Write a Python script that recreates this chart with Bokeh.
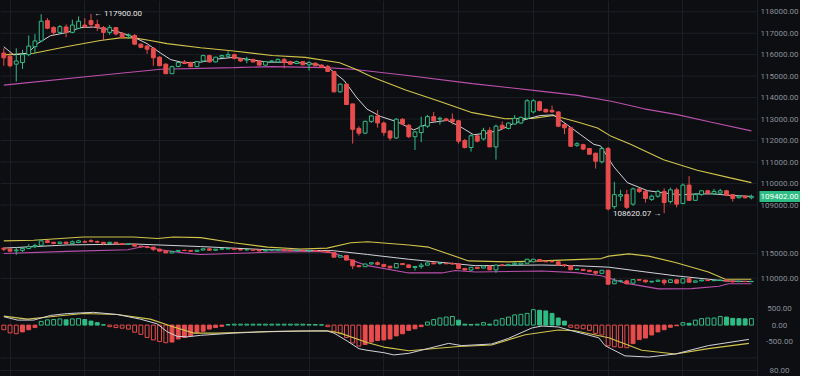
from bokeh.plotting import figure
from bokeh.layouts import column
from bokeh.models import FixedTicker, Label, ColumnDataSource, Range1d
from bokeh.core.properties import value
from bokeh.embed import file_html
from bokeh.resources import INLINE

# ---------------- data ----------------
opens = [116076, 115928, 115558, 115632, 116002, 116372, 116638, 117586, 117260, 117038,
         117290, 117038, 117230, 117378, 117586, 117408, 117260, 117038, 117260, 116994,
         116890, 116890, 116490, 116402, 116298, 115884, 115558, 115114, 115454, 115662,
         115632, 115440, 115706, 115958, 115662, 115884, 115928, 116002, 115810, 115750,
         115780, 115706, 115514, 115676, 115662, 115780, 115676, 115588, 115676, 115528,
         115602, 115514, 115454, 115218, 114270, 114626, 113708, 112568, 112346, 112894,
         113146, 112817, 112447, 112121, 112995, 112713, 112180, 112373, 112669, 113113,
         113000, 113009, 112995, 112920, 112003, 111677, 112225, 112077, 112476, 111706,
         112713, 112565, 112772, 112817, 113039, 113335, 113809, 113454, 113409, 113335,
         112743, 112595, 111780, 111810, 111632, 111410, 111011, 111632, 108922, 109411,
         109485, 109040, 109751, 109633, 109263, 109411, 109633, 109159, 109707, 109070,
         109929, 109218, 109485, 109663, 109529, 109559, 109663, 109485, 109337, 109411,
         109337]
highs = [116298, 116150, 116298, 116224, 116890, 116964, 117882, 117704, 117334, 117380,
         117408, 117630, 117778, 117700, 117900, 117630, 117334, 117380, 117290, 117040,
         116990, 116960, 116520, 116450, 116350, 115930, 115600, 115490, 115660, 115750,
         115680, 115700, 116000, 116000, 115900, 116000, 116150, 116050, 115860, 115900,
         115810, 115750, 115700, 115740, 115820, 115850, 115720, 115720, 115700, 115700,
         115640, 115560, 115520, 115250, 114660, 114680, 113720, 112670, 112930, 113190,
         113420, 112890, 112480, 113039, 113039, 112772, 112450, 113113, 113187, 113335,
         113113, 113060, 113261, 112965, 112077, 112299, 112260, 112595, 112624, 112743,
         112890, 112840, 113187, 113113, 113928, 113928, 113854, 113480, 113630, 113365,
         112817, 112624, 111928, 111854, 111660, 111440, 111706, 111706, 110077, 109707,
         109707, 109810, 109810, 109707, 109485, 109707, 109780, 109810, 109810, 110003,
         110343, 109559, 109663, 109707, 109751, 109751, 109707, 109515, 109455, 109455,
         109485]
lows = [115484, 115410, 114744, 115336, 115928, 116076, 116594, 117186, 116890, 116960,
        116816, 116994, 117186, 117240, 117260, 117100, 116668, 116920, 116890, 116740,
        116740, 116440, 116300, 116040, 115484, 115480, 115110, 115110, 115410, 115560,
        115420, 115420, 115660, 115630, 115640, 115850, 115880, 115780, 115660, 115600,
        115640, 115480, 115480, 115640, 115640, 115366, 115530, 115560, 115500, 115262,
        115460, 115380, 115190, 114240, 114240, 113670, 111858, 112228, 112300, 112820,
        112600, 112225, 112003, 112080, 112713, 112121, 111558, 111928, 112595, 112890,
        112743, 112900, 112743, 111854, 111632, 111484, 111920, 112003, 111706, 111114,
        112520, 112520, 112743, 112780, 112965, 113261, 113365, 113300, 113300, 112624,
        112299, 111706, 111706, 111558, 111340, 110699, 110930, 108744, 108818, 109190,
        108818, 108966, 109560, 109114, 109190, 109337, 108620, 109070, 108892, 109040,
        109190, 109190, 109440, 109485, 109460, 109485, 109411, 109159, 109307, 109307,
        109263]
closes = [115854, 115484, 115706, 116002, 116402, 116638, 117556, 117230, 117038, 117304,
          117038, 117378, 117556, 117290, 117408, 117290, 117038, 117260, 116964, 116816,
          116920, 116490, 116342, 116254, 115854, 115484, 115114, 115440, 115632, 115588,
          115440, 115676, 115958, 115662, 115884, 115958, 116002, 115824, 115706, 115780,
          115662, 115514, 115676, 115706, 115780, 115632, 115558, 115676, 115528, 115632,
          115484, 115410, 115218, 114270, 114626, 113678, 112524, 112346, 112894, 113146,
          112820, 112373, 112121, 112995, 112772, 112180, 112402, 112669, 113113, 112920,
          113039, 112935, 112890, 111973, 111677, 112225, 111973, 112476, 111706, 112669,
          112565, 112817, 113039, 113083, 113854, 113854, 113409, 113335, 113335, 112669,
          112595, 111736, 111854, 111603, 111366, 111040, 111632, 108818, 109485, 109485,
          108892, 109751, 109633, 109307, 109411, 109633, 109114, 109707, 109040, 109929,
          109218, 109485, 109663, 109559, 109633, 109663, 109455, 109307, 109411, 109337,
          109402]

# moving averages (candle index, price)
ma7_x = [0, 1.6, 3.8, 5.4, 7.5, 10.2, 12.3, 14.4, 16.6, 18.7, 20.9, 23, 25.2, 26.8, 28.9, 31.6,
         34.3, 36.9, 39.6, 42.3, 44.9, 47.6, 50.3, 52.4, 54.6, 56.7, 58.3, 60.5, 63.2, 65.8,
         68.5, 71.2, 73.3, 75.4, 77.6, 79.7, 81.8, 84.1, 86.1, 88.2, 90.5, 92.6, 94.7, 95.8,
         97.9, 100.1, 103.3, 105.9, 108.6, 111.3, 113.9, 116.6, 120]
ma7_y = [116366, 115991, 116067, 116514, 116884, 117036, 117259, 117286, 117183, 117036,
         116813, 116514, 116067, 115768, 115621, 115652, 115799, 115875, 115768, 115652,
         115652, 115621, 115545, 115322, 114804, 113982, 113465, 113121, 112866, 112496,
         112840, 112942, 112643, 112273, 112349, 112496, 112795, 113018, 113166, 113197,
         112719, 112273, 111827, 111750, 110786, 110041, 109670, 109563, 109474, 109518,
         109518, 109447, 109402]
ma25_x = [0, 4.8, 10.2, 15.5, 18.7, 20.9, 23.5, 26.2, 31.6, 36.9, 43.1, 48.4, 53.9, 56.5,
          59.2, 64.5, 69.9, 75.2, 80.5, 84.9, 88.2, 92.1, 95.3, 97.5, 100.6, 105.9, 111.3,
          116.6, 120]
ma25_y = [115991, 116067, 116380, 116661, 116781, 116781, 116661, 116514, 116322, 116170,
          115964, 115875, 115621, 115322, 114951, 114357, 113835, 113300, 113018, 113032,
          113166, 112866, 112585, 112197, 111826, 111112, 110621, 110264, 110041]
ma99_x = [0, 15.5, 25.2, 36.9, 43.1, 51.6, 56, 64.5, 75.2, 86.8, 92.1, 97.5, 102.8, 108.1,
          113.6, 120]
ma99_y = [114580, 115040, 115322, 115397, 115442, 115397, 115322, 115040, 114652, 114281,
          114103, 113835, 113478, 113210, 112853, 112451]

# Bollinger bands (panel 2)
bb_up_x = [0, 4.8, 12.8, 20.8, 24.7, 27.2, 31.6, 36.9, 42.3, 47.6, 51.9, 55.7, 58.4, 65,
           68.2, 74.6, 81, 86.3, 95.9, 97.1, 100.3, 103.5, 107.8, 113.1, 115.8, 120]
bb_up_y = [117558, 117690, 118327, 118327, 118019, 118327, 118211, 117173, 116288, 115904,
           116096, 117173, 117365, 116731, 116288, 113519, 113327, 113519, 113981, 114481,
           114942, 114481, 113212, 111289, 109808, 109808]
bb_mid_x = [0, 10.2, 20.8, 31.6, 42.3, 52.9, 58.4, 65, 75.7, 86.3, 91.8, 97.1, 107.8, 115.8, 120]
bb_mid_y = [116096, 116731, 116923, 116404, 115769, 115577, 114808, 113846, 112558, 112692,
            112558, 112250, 110519, 109481, 109365]
bb_lo_x = [0, 10.2, 19.9, 22.4, 25.2, 28.8, 31.6, 42.3, 50.3, 52.9, 56.1, 58.4, 65, 70.3,
           72.5, 75.7, 86.3, 91.8, 95.9, 99.8, 105.1, 110.4, 114.8, 116.3, 120]
bb_lo_y = [115000, 115442, 115769, 116404, 115769, 115135, 114808, 115250, 115442, 115135,
           113519, 112558, 111096, 111096, 111596, 111289, 111481, 111154, 110519, 109038,
           107885, 107942, 108404, 108904, 108904]

# MACD (panel 3)
macd_hist = [-141, -235, -263, -207, -141, -75, 113, 160, 169, 188,
             160, 188, 197, 169, 122, 75, 10, -47, -75, -94,
             -122, -216, -282, -376, -451, -498, -536, -517, -423, -376,
             -329, -235, -188, -122, -75, -38, 19, 28, 28, 28,
             28, 28, 28, 28, 28, 28, 28, 28, 28, 19,
             19, 10, -47, -188, -263, -376, -545, -639, -592, -517,
             -470, -451, -423, -329, -263, -160, -113, -47, 94, 169,
             216, 244, 263, 150, 28, 20, 28, 75, 28, 150,
             197, 244, 310, 329, 357, 470, 451, 432, 357, 216,
             122, -66, -94, -113, -160, -254, -301, -630, -660, -677,
             -690, -564, -442, -395, -301, -207, -141, -66, -19, 75,
             56, 150, 197, 216, 216, 263, 244, 207, 197, 190,
             197]
dif_x = [0, 2.2, 4.8, 7.5, 10.2, 14.4, 18.2, 21.9, 24.6, 26.2, 27.8, 29.4, 31.6, 36.9, 42.3,
         47.6, 51.9, 53, 55.1, 57, 58.3, 61, 62.6, 65, 71.4, 73.5, 78.3, 81, 84.8, 86.4, 89,
         91.7, 95.5, 96.5, 99.7, 103.5, 107.8, 113.1, 119.6]
dif_y = [256, 153, 153, 295, 352, 389, 324, 182, 40, -199, -341, -358, -312, -244, -199,
         -179, -179, -244, -483, -719, -767, -841, -909, -861, -557, -625, -577, -406, -85,
         -28, -57, -199, -386, -625, -937, -974, -880, -625, -435]
dea_x = [0, 3.8, 7.5, 12.8, 18.2, 23.5, 27.3, 30.5, 34.3, 42.3, 51.9, 54, 58.3, 61, 65, 73,
         78.3, 83.7, 89, 91.7, 97.1, 102.4, 107.8, 113.1, 119.6]
dea_y = [275, 182, 256, 352, 324, 182, -57, -244, -244, -199, -170, -244, -528, -670, -784,
         -653, -605, -292, -150, -170, -386, -767, -880, -718, -557]

price_ticks = [109000, 110000, 111000, 112000, 113000, 114000, 115000, 116000, 117000, 118000]
bb_ticks = [110000, 115000]
macd_ticks = [-500, 0, 500]
macd_grid = [-1000, 1000]
rsi_ticks = [80]
time_grid = [1, 13, 25, 37, 49, 61, 73, 85, 97, 109, 121]
high_text = "\u2190 117900.00"
low_text = "108620.07 \u2192"

# ---------------- style ----------------
BG = "#0d0e12"
GRID = "#1c1f25"
RED = "#e84c4c"
GREEN = "#2ebd85"
TXT = "#8a8f98"
WHITE_L = "#d2d2da"
YELLOW_L = "#d2c44a"
PURPLE_L = "#bb50ad"
FONT = "Roboto"
FW = 800
PXU = 6.23               # pixels per candle
X0 = -0.53
X1 = X0 + FW / PXU       # full width incl. price-scale area
XD = 121.1               # right edge of the candle area
LX = X0 + 779 / PXU      # centre of the price-scale labels

n = len(opens)
idx = list(range(n))
up = [c >= o for o, c in zip(opens, closes)]
cds = ColumnDataSource(dict(
    x=idx, o=opens, h=highs, l=lows, c=closes,
    top=[max(o, c) for o, c in zip(opens, closes)],
    bot=[min(o, c) for o, c in zip(opens, closes)],
    col=[GREEN if u else RED for u in up],
    fill=[BG if u else RED for u in up],
))


def make_fig(h, y0, y1, ticks, grid_ticks):
    p = figure(frame_width=FW, frame_height=h, x_range=Range1d(X0, X1), y_range=Range1d(y0, y1),
               output_backend="svg", toolbar_location=None, x_axis_location=None,
               y_axis_location=None, min_border_left=0, min_border_right=0,
               min_border_top=0, min_border_bottom=0)
    p.background_fill_color = BG
    p.border_fill_color = BG
    p.outline_line_color = None
    p.xgrid.ticker = FixedTicker(ticks=time_grid)
    p.xgrid.grid_line_color = GRID
    p.ygrid.visible = False
    p.segment(x0=[X0] * len(grid_ticks), x1=[XD] * len(grid_ticks), y0=grid_ticks,
              y1=grid_ticks, line_color=GRID, line_width=1)
    p.text(x=[LX] * len(ticks), y=ticks, text=[f"{t:.2f}" for t in ticks],
           text_align="center", text_baseline="middle", text_color=TXT,
           text_font=value(FONT), text_font_size="8px")
    return p


def candles(p):
    p.segment(x0="x", y0="h", x1="x", y1="l", color="col", line_width=1, source=cds)
    p.vbar(x="x", width=0.62, top="top", bottom="bot", fill_color="fill", line_color="col",
           line_width=1, source=cds)


# main panel
p1 = make_fig(233, 107674, 118522, price_ticks, price_ticks)
p1.line(ma99_x, ma99_y, color=PURPLE_L, line_width=1.1)
p1.line(ma25_x, ma25_y, color=YELLOW_L, line_width=1.1)
p1.line(ma7_x, ma7_y, color=WHITE_L, line_width=1)
candles(p1)
p1.add_layout(Label(x=14, y=117900, x_offset=3, text=high_text, text_baseline="middle",
                    text_color="#e6e6e6", text_font=FONT, text_font_size="8px"))
p1.add_layout(Label(x=106, y=108620, x_offset=-3, text=low_text, text_baseline="middle",
                    text_align="right", text_color="#e6e6e6", text_font=FONT,
                    text_font_size="8px"))
# last-price tag on the price scale
p1.rect(x=[X0 + 779.5 / PXU], y=[closes[-1]], width=41, height=11, width_units="screen",
        height_units="screen", fill_color=GREEN, line_color=None)
p1.text(x=[LX], y=[closes[-1]], text=[f"{closes[-1]:.2f}"], text_align="center",
        text_baseline="middle", text_color="#ffffff", text_font=value(FONT),
        text_font_size="8px")

# bollinger panel
p2 = make_fig(63, 106346, 119038, bb_ticks, bb_ticks)
p2.line(bb_up_x, bb_up_y, color=YELLOW_L, line_width=1.1)
p2.line(bb_mid_x, bb_mid_y, color=WHITE_L, line_width=1)
p2.line(bb_lo_x, bb_lo_y, color=PURPLE_L, line_width=1.1)
candles(p2)

# macd panel
grow = []
for i, v in enumerate(macd_hist):
    prev = macd_hist[i - 1] if i > 0 else 0
    grow.append((v >= 0) != (prev >= 0) or abs(v) >= abs(prev))
hcol = [GREEN if v >= 0 else RED for v in macd_hist]
hfill = [BG if g else c for g, c in zip(grow, hcol)]
hsrc = ColumnDataSource(dict(x=idx, v=macd_hist, col=hcol, fill=hfill))
p3 = make_fig(68, -1201, 872, macd_ticks, macd_grid)
p3.vbar(x="x", width=0.62, top="v", bottom=0, fill_color="fill", line_color="col",
        line_width=1, source=hsrc)
p3.line(dea_x, dea_y, color=YELLOW_L, line_width=1.1)
p3.line(dif_x, dif_y, color=WHITE_L, line_width=1)

# rsi panel (only its top edge is visible)
p4 = make_fig(12, 74, 86, rsi_ticks, rsi_ticks)

layout = column(p1, p2, p3, p4, spacing=0)
layout.styles = {"background-color": BG}
open("out.html", "w").write(file_html(layout, INLINE))
